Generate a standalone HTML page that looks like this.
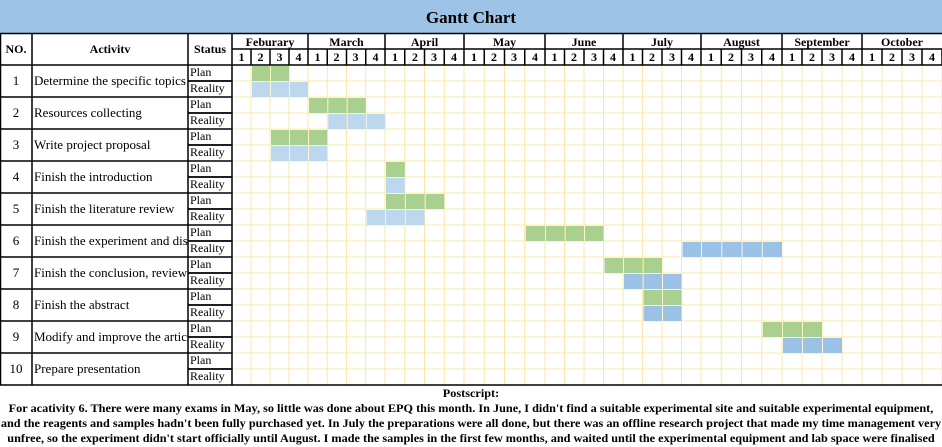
<!DOCTYPE html>
<html><head><meta charset="utf-8"><style>
body{margin:0;width:942px;height:447px;overflow:hidden;background:#fff;font-family:"Liberation Serif",serif;color:#000;position:relative}
.a{position:absolute;white-space:nowrap}
.t{left:0;top:0;width:942px;height:33px;background:#9dc3e6;font-weight:bold;font-size:17px;text-align:center;line-height:36px}
.h{font-weight:bold;font-size:12px;text-align:center}
.w{position:absolute;top:49px;height:16px;font-weight:bold;font-size:12px;text-align:center;line-height:17px}
.m{position:absolute;top:33px;height:16px;font-weight:bold;font-size:12px;text-align:center;line-height:18px}
.n{left:0;width:32px;text-align:center;font-size:13px;line-height:32px;height:32px}
.ac{left:34px;font-size:13px;line-height:32px;height:32px;width:154px;overflow:hidden}
.s{left:190px;font-size:12px;line-height:15px;height:16px}
.p{left:0;width:942px;text-align:center;font-weight:bold;font-size:12px;transform:scaleX(1.02);transform-origin:center}
svg{position:absolute;left:0;top:0}
</style></head><body>
<div class="a t">Gantt Chart</div>
<svg width="942" height="447">
<g stroke="#fbe8a6" stroke-width="1" id="g"></g>
<g id="b"></g>
<g stroke="#000" stroke-width="1.5" fill="none">
<line x1="0" y1="33.5" x2="942" y2="33.5"/>
<line x1="232" y1="49" x2="942" y2="49"/>
<line x1="0" y1="65" x2="942" y2="65"/>
<line x1="0" y1="385" x2="942" y2="385"/>
<line x1="0.5" y1="33" x2="0.5" y2="385"/>
<line x1="32" y1="33" x2="32" y2="385"/>
<line x1="188" y1="33" x2="188" y2="385"/>
<line x1="232" y1="33" x2="232" y2="385"/>
<g id="hl"></g>
</g>
</svg>
<div class="a h" style="left:0;top:33px;width:32px;line-height:32px">NO.</div>
<div class="a h" style="left:32px;top:33px;width:156px;line-height:32px">Activitv</div>
<div class="a h" style="left:188px;top:33px;width:44px;line-height:32px">Status</div>
<div class="m" style="left:232px;width:76px">Feburary</div>
<div class="m" style="left:308px;width:77px">March</div>
<div class="m" style="left:385px;width:79px">April</div>
<div class="m" style="left:464px;width:81px">May</div>
<div class="m" style="left:545px;width:78px">June</div>
<div class="m" style="left:623px;width:78px">July</div>
<div class="m" style="left:701px;width:81px">August</div>
<div class="m" style="left:782px;width:80px">September</div>
<div class="m" style="left:862px;width:80px">October</div>
<div class="w" style="left:232px;width:19px">1</div><div class="w" style="left:251px;width:19px">2</div><div class="w" style="left:270px;width:19px">3</div><div class="w" style="left:289px;width:19px">4</div>
<div class="w" style="left:308px;width:19px">1</div><div class="w" style="left:327px;width:19px">2</div><div class="w" style="left:346px;width:19px">3</div><div class="w" style="left:366px;width:19px">4</div>
<div class="w" style="left:385px;width:20px">1</div><div class="w" style="left:405px;width:20px">2</div><div class="w" style="left:424px;width:20px">3</div><div class="w" style="left:444px;width:20px">4</div>
<div class="w" style="left:464px;width:20px">1</div><div class="w" style="left:484px;width:20px">2</div><div class="w" style="left:504px;width:20px">3</div><div class="w" style="left:525px;width:20px">4</div>
<div class="w" style="left:545px;width:19px">1</div><div class="w" style="left:564px;width:20px">2</div><div class="w" style="left:584px;width:20px">3</div><div class="w" style="left:603px;width:20px">4</div>
<div class="w" style="left:623px;width:19px">1</div><div class="w" style="left:642px;width:20px">2</div><div class="w" style="left:662px;width:20px">3</div><div class="w" style="left:681px;width:20px">4</div>
<div class="w" style="left:701px;width:20px">1</div><div class="w" style="left:721px;width:20px">2</div><div class="w" style="left:741px;width:20px">3</div><div class="w" style="left:762px;width:20px">4</div>
<div class="w" style="left:782px;width:20px">1</div><div class="w" style="left:802px;width:20px">2</div><div class="w" style="left:822px;width:20px">3</div><div class="w" style="left:842px;width:20px">4</div>
<div class="w" style="left:862px;width:20px">1</div><div class="w" style="left:882px;width:20px">2</div><div class="w" style="left:902px;width:20px">3</div><div class="w" style="left:922px;width:20px">4</div>

<div class="a n" style="top:65px">1</div><div class="a ac" style="top:65px">Determine the specific topics</div>
<div class="a n" style="top:97px">2</div><div class="a ac" style="top:97px">Resources collecting</div>
<div class="a n" style="top:129px">3</div><div class="a ac" style="top:129px">Write project proposal</div>
<div class="a n" style="top:161px">4</div><div class="a ac" style="top:161px">Finish the introduction</div>
<div class="a n" style="top:193px">5</div><div class="a ac" style="top:193px">Finish the literature review</div>
<div class="a n" style="top:225px">6</div><div class="a ac" style="top:225px">Finish the experiment and discussion</div>
<div class="a n" style="top:257px">7</div><div class="a ac" style="top:257px">Finish the conclusion, review</div>
<div class="a n" style="top:289px">8</div><div class="a ac" style="top:289px">Finish the abstract</div>
<div class="a n" style="top:321px">9</div><div class="a ac" style="top:321px">Modify and improve the article</div>
<div class="a n" style="top:353px">10</div><div class="a ac" style="top:353px">Prepare presentation</div>

<div class="a s" style="top:65px">Plan</div><div class="a s" style="top:81px">Reality</div>
<div class="a s" style="top:97px">Plan</div><div class="a s" style="top:113px">Reality</div>
<div class="a s" style="top:129px">Plan</div><div class="a s" style="top:145px">Reality</div>
<div class="a s" style="top:161px">Plan</div><div class="a s" style="top:177px">Reality</div>
<div class="a s" style="top:193px">Plan</div><div class="a s" style="top:209px">Reality</div>
<div class="a s" style="top:225px">Plan</div><div class="a s" style="top:241px">Reality</div>
<div class="a s" style="top:257px">Plan</div><div class="a s" style="top:273px">Reality</div>
<div class="a s" style="top:289px">Plan</div><div class="a s" style="top:305px">Reality</div>
<div class="a s" style="top:321px">Plan</div><div class="a s" style="top:337px">Reality</div>
<div class="a s" style="top:353px">Plan</div><div class="a s" style="top:369px">Reality</div>

<div class="a p" style="top:386px">Postscript:</div>
<div class="a p" style="top:401px">For acativity 6. There were many exams in May, so little was done about EPQ this month. In June, I didn't find a suitable experimental site and suitable experimental equipment,</div>
<div class="a p" style="top:416px">and the reagents and samples hadn't been fully purchased yet. In July the preparations were all done, but there was an offline research project that made my time management very</div>
<div class="a p" style="top:431px">unfree, so the experiment didn't start officially until August. I made the samples in the first few months, and waited until the experimental equipment and lab space were finalised</div>
<script>
var S=[232,308,385,464,545,623,701,782,862,942],X=[];
for(var m=0;m<9;m++){var w=(S[m+1]-S[m])/4;for(var k=0;k<4;k++)X.push(S[m]+w*k);}X.push(942);
var ns="http://www.w3.org/2000/svg",g=document.getElementById('g'),b=document.getElementById('b'),hl=document.getElementById('hl');
function ln(p,x1,y1,x2,y2){var l=document.createElementNS(ns,'line');l.setAttribute('x1',x1);l.setAttribute('y1',y1);l.setAttribute('x2',x2);l.setAttribute('y2',y2);p.appendChild(l);}
for(var i=1;i<40;i++){ln(g,X[i],65,X[i],385);}
for(var r=0;r<20;r++){ln(g,232,65+16*r+16,942,65+16*r+16);}
for(var r=0;r<20;r++){ln(hl,188,65+16*r+(r%2?0:16),232,65+16*r+(r%2?0:16));}
for(var r=1;r<10;r++)ln(hl,0,65+32*r,232,65+32*r);
for(var i=1;i<40;i++){ln(hl,X[i],49,X[i],65);}
for(var m=1;m<9;m++)ln(hl,S[m],33,S[m],49);
function bar(row,real,a,c,col){var y=65+32*row+(real?16:0);for(var i=a;i<=c;i++){var e=document.createElementNS(ns,'rect');e.setAttribute('x',X[i]+1);e.setAttribute('y',y+1);e.setAttribute('width',X[i+1]-X[i]-1);e.setAttribute('height',15);e.setAttribute('fill',col);b.appendChild(e);}}
var G='#a9d08e',L='#bdd7ee',B='#9bc2e6';
bar(0,0,1,2,G);bar(0,1,1,3,L);
bar(1,0,4,6,G);bar(1,1,5,7,L);
bar(2,0,2,4,G);bar(2,1,2,4,L);
bar(3,0,8,8,G);bar(3,1,8,8,L);
bar(4,0,8,10,G);bar(4,1,7,9,L);
bar(5,0,15,18,G);bar(5,1,23,27,B);
bar(6,0,19,21,G);bar(6,1,20,22,B);
bar(7,0,21,22,G);bar(7,1,21,22,B);
bar(8,0,27,29,G);bar(8,1,28,30,B);
</script>
</body></html>
